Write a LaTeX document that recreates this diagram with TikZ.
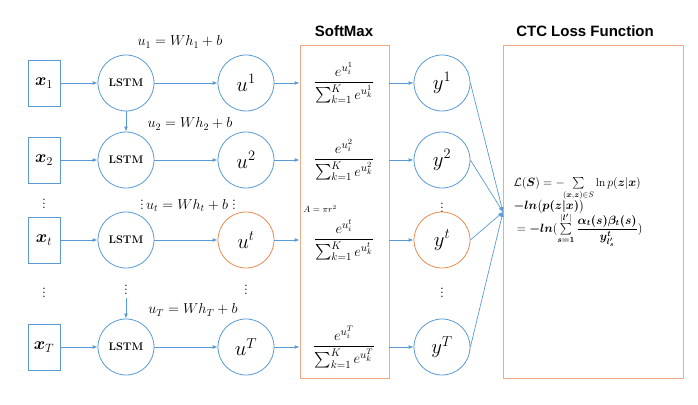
\documentclass[tikz,border=0pt]{standalone}
\usepackage{amsmath,amssymb,bm}
\usepackage{fontspec}
\newfontfamily\titlefont{Liberation Sans}
\begin{document}
\begin{tikzpicture}[x=1pt,y=-1pt,
  blu/.style={draw={rgb,255:red,91;green,155;blue,213},line width=0.8pt},
  org/.style={draw={rgb,255:red,237;green,140;blue,80},line width=0.8pt},
  pale/.style={draw={rgb,255:red,240;green,170;blue,130},line width=0.9pt},
  xbox/.style={blu,minimum width=32pt,minimum height=46pt,inner sep=0pt,font=\fontsize{17}{17}\selectfont},
  circ/.style={blu,circle,minimum size=56pt,inner sep=0pt},
  lstm/.style={circ,font=\fontsize{11}{11}\selectfont\bfseries},
  uc/.style={circ,font=\fontsize{20}{20}\selectfont},
  arr/.style={draw={rgb,255:red,91;green,155;blue,213},line width=0.7pt,-latex},
  lab/.style={font=\fontsize{14}{14}\selectfont},
  frac/.style={font=\fontsize{15.5}{15.5}\selectfont},
  ttl/.style={font=\titlefont\fontsize{15}{15}\selectfont\bfseries}]
\useasboundingbox (0,0) rectangle (698,404);
\fill[white] (0,0) rectangle (698,404);
% softmax and CTC boxes
\node[pale,minimum width=89pt,minimum height=333pt,inner sep=0pt] (sm) at (344.5,211.5) {};
\node[pale,minimum width=180pt,minimum height=333pt,inner sep=0pt] (ctc) at (593,211.5) {};
\node[ttl] (t1) at (344,31) {SoftMax};
\node[ttl] (t2) at (585,31) {CTC Loss Function};
\coordinate (hub) at (503,212);
% rows
\foreach \i/\yy/\sub/\col in {1/83/1/blu, 2/160/2/blu, t/240/t/org, T/347/T/blu}{
  \node[xbox] (x\i) at (44,\yy) {$\bm{x}_{\sub}$};
  \node[lstm] (l\i) at (126,\yy) {LSTM};
  \node[uc,\col] (u\i) at (246,\yy) {$u^{\sub}$};
  \node[frac] (f\i) at (344,\yy) {$\dfrac{e^{u_i^{\sub}}}{\sum_{k=1}^{K} e^{u_k^{\sub}}}$};
  \node[uc,\col] (y\i) at (442,\yy) {$y^{\sub}$};
  \draw[arr] (x\i) -- (l\i);
  \draw[arr] (l\i) -- (u\i);
  \draw[arr] (u\i.east) -- (sm.west |- u\i.east);
  \draw[arr] (sm.east |- y\i.west) -- (y\i.west);
  \draw[arr] (y\i.east) -- (hub);
}
% labels
\node[lab] (e1) at (180,42) {$u_1 = Wh_1 + b$};
\node[lab] (e2) at (190,124) {$u_2 = Wh_2 + b$};
\node[lab] (et) at (188,203) {$\vdots\, u_t = Wh_t + b\;\vdots$};
\node[lab] (eT) at (193,310) {$u_T = Wh_T + b$};
\draw[arr] (l1) -- (l2);
\node[lab] (dl) at (126,287) {$\vdots$};
\draw[arr] (dl.south) -- (lT);
\node[lab] (dx1) at (44,201) {$\vdots$};
\node[lab] (dx2) at (44,290) {$\vdots$};
\node[lab] (du) at (246,287) {$\vdots$};
\node[lab] (dy1) at (442,205) {$\vdots$};
\node[lab] (dy2) at (442,290) {$\vdots$};
\node[font=\fontsize{9}{9}\selectfont] (area) at (320,209) {$A=\pi r^2$};
% CTC formula
\node[anchor=west,font=\fontsize{11.5}{14}\selectfont,align=left] (loss) at (510,212) {%
$\mathcal{L}(\bm{S}) = -\!\!\sum\limits_{(\bm{x},\bm{z})\in S}\ln p(\bm{z}|\bm{x})$\\[-2pt]
$\bm{-ln\bigl(p(z|x)\bigr)}$\\[-2pt]
$\;=\bm{-ln}(\sum\limits_{\bm{s=1}}^{|\bm{l'}|}\dfrac{\bm{\alpha_{t}(s)\beta_t(s)}}{\bm{y^t_{l'_s}}})$};
\end{tikzpicture}
\end{document}
